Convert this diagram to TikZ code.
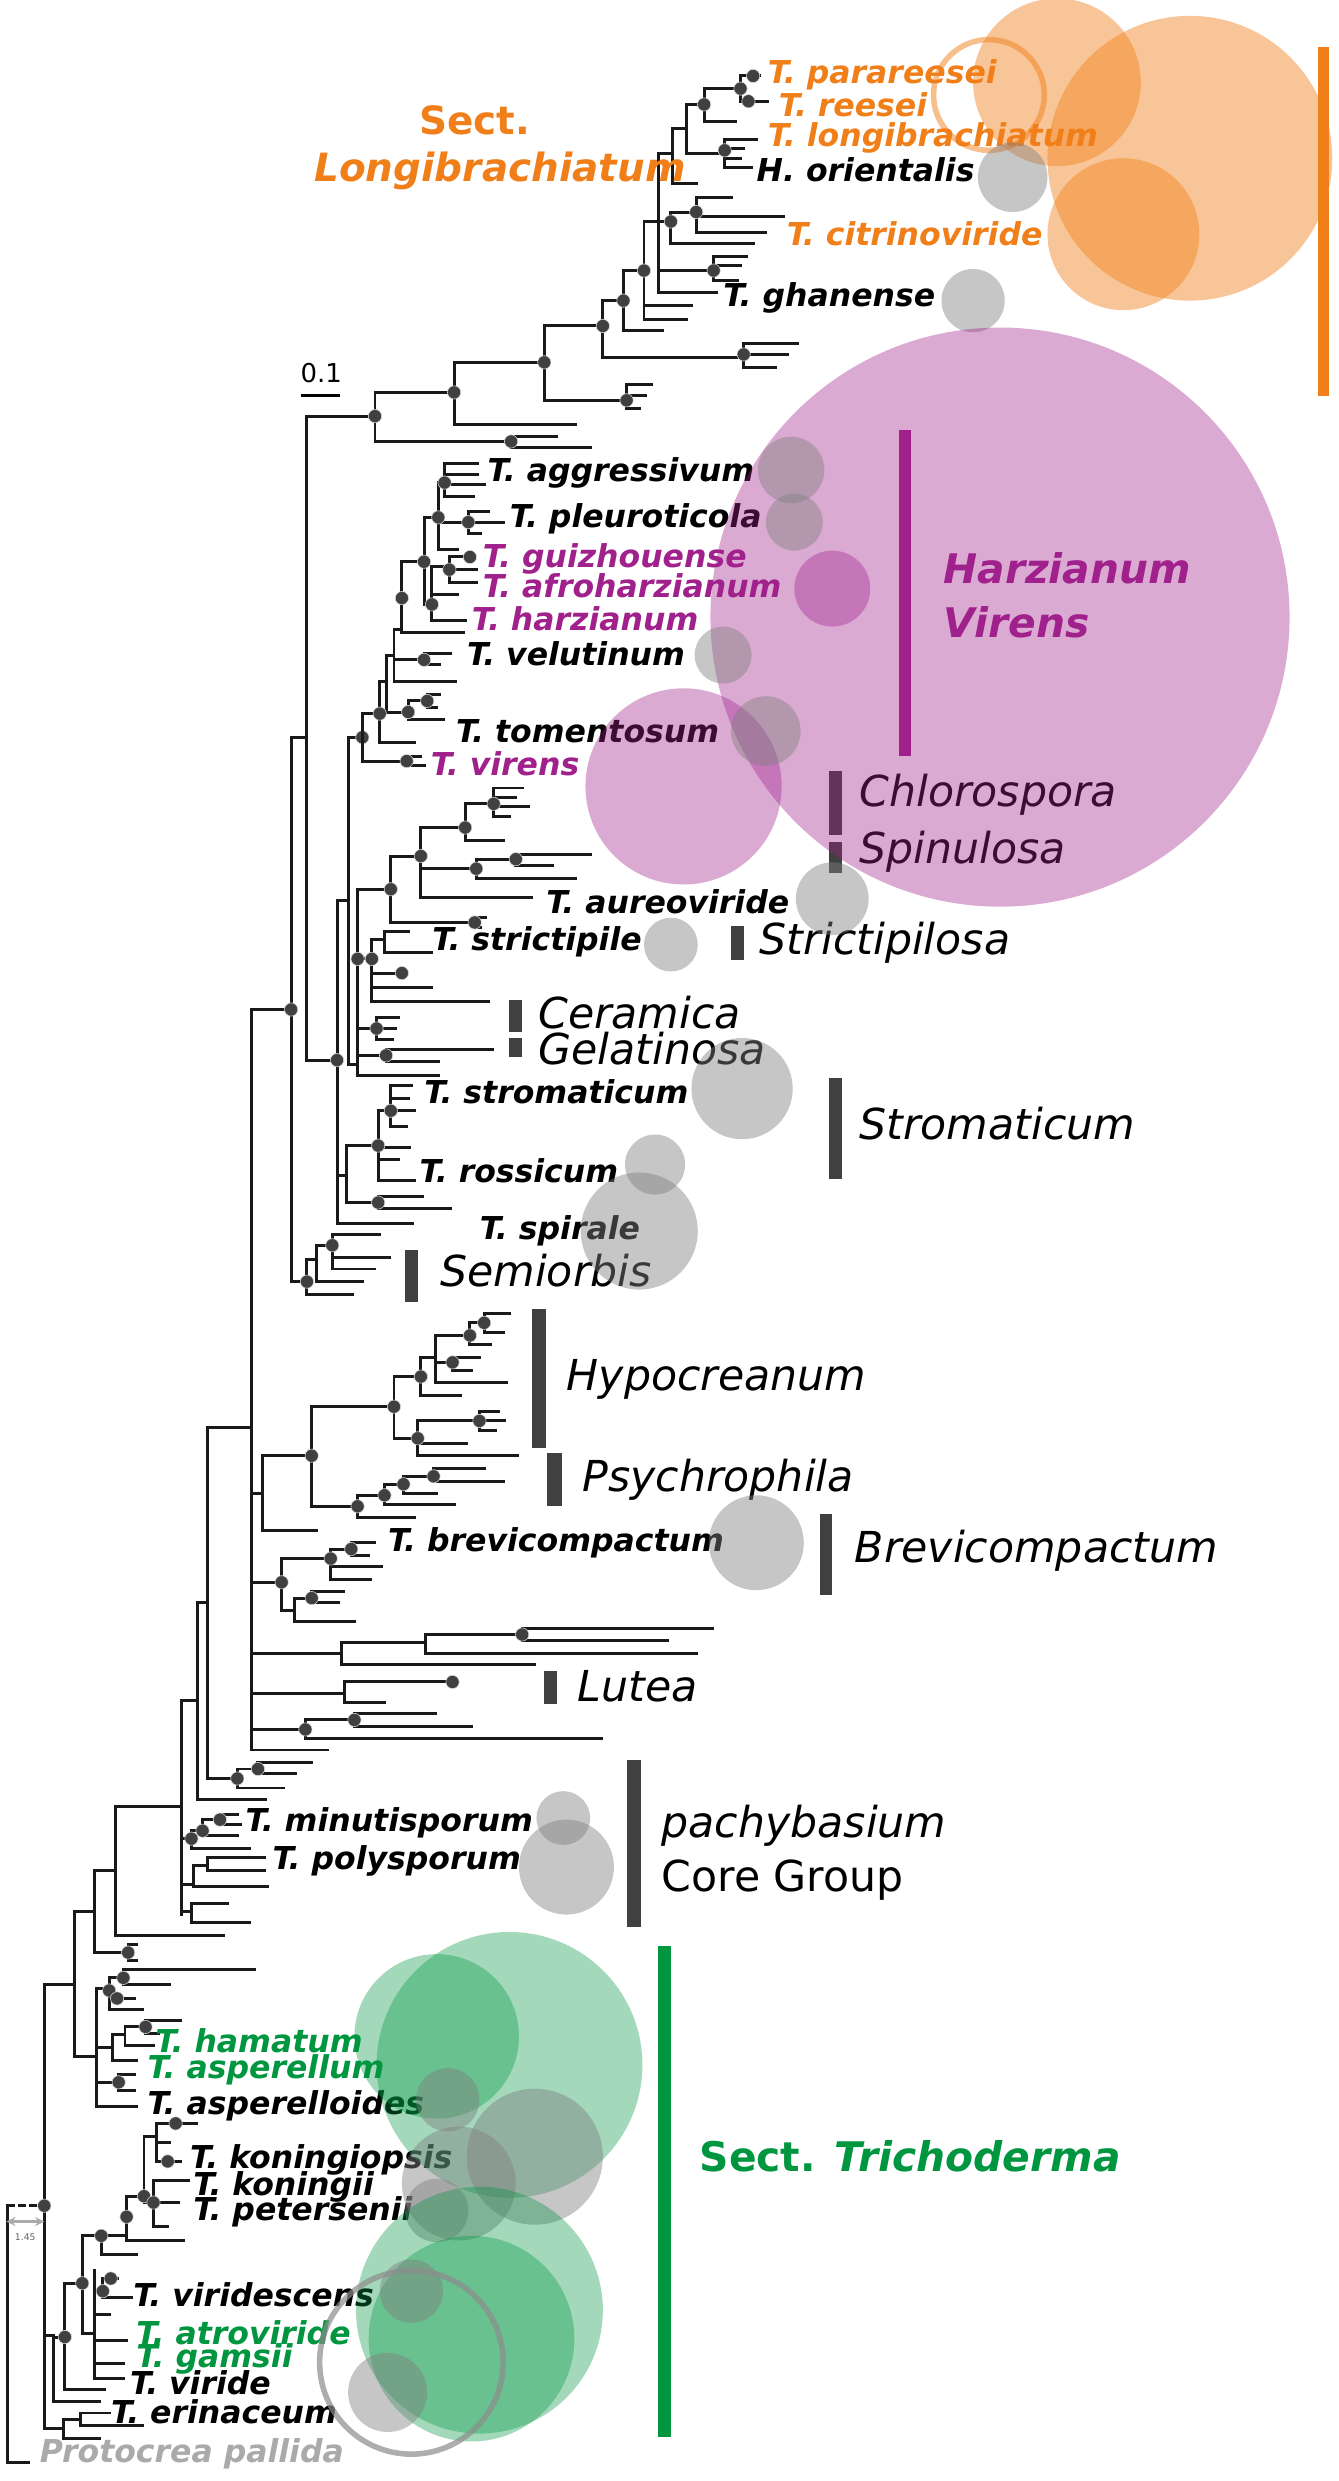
\documentclass[tikz,border=0pt]{standalone}
\usepackage{fontspec}
\setmainfont{DejaVu Sans}
\begin{document}
\definecolor{orC}{RGB}{240,127,26}
\definecolor{maC}{RGB}{160,32,140}
\definecolor{grC}{RGB}{0,150,64}
\definecolor{dkC}{RGB}{64,64,64}
\definecolor{ltC}{RGB}{170,170,170}
\newcommand\vl[3]{\draw[br] (#1,#2)--(#1,#3);}
\newcommand\hl[3]{\draw[br] (#1,#2)--(#3,#2);}
\newcommand\dt[2]{\fill[dkC,draw=white!85!black,line width=0.3pt] (#1,#2) circle (4.2);}
\begin{tikzpicture}[x=0.3mm,y=-0.3mm,
  br/.style={line width=1.6pt,line cap=rect,black!90},
  sp/.style={anchor=west,inner sep=0pt,font=\fontsize{17}{17}\selectfont\bfseries\itshape},
  sc/.style={anchor=west,inner sep=0pt,font=\fontsize{23}{24}\selectfont\itshape},
  bar/.style={fill=dkC},
  bo/.style={fill=orC,opacity=0.45},
  bm/.style={fill=maC,opacity=0.38},
  bg/.style={fill=black!50,opacity=0.45},
  bn/.style={fill=grC,opacity=0.36}]
\useasboundingbox (0,0) rectangle (846,1568);
% ---- Longibrachiatum clade
\vl{194}{263}{670}
\hl{194}{263}{237}
\vl{237}{248}{279} \hl{237}{279}{323} \vl{323}{276}{283} \hl{323}{276}{352} \hl{323}{283}{373}
\hl{237}{248}{287}
\vl{287}{229}{268} \hl{287}{268}{364} \hl{287}{229}{344}
\vl{344}{206}{253} \hl{344}{253}{396} \vl{396}{243}{258} \hl{396}{243}{412} \hl{396}{250}{408} \hl{396}{258}{404}
\hl{344}{206}{381}
\vl{381}{190}{226} \hl{381}{226}{470} \vl{470}{217}{232} \hl{470}{217}{504} \hl{470}{224}{498} \hl{470}{232}{490}
\hl{381}{190}{394}
\vl{394}{171}{209} \hl{394}{209}{419} \hl{394}{171}{407}
\vl{407}{140}{202} \hl{407}{193}{437} \hl{407}{202}{434} \hl{407}{140}{416}
\vl{416}{97}{185} \hl{416}{185}{453}
\hl{416}{171}{451} \vl{451}{162}{177} \hl{451}{162}{472} \hl{451}{168}{468} \hl{451}{177}{466}
\hl{416}{140}{424} \vl{424}{134}{154} \hl{424}{154}{476} \hl{424}{134}{440}
\vl{440}{125}{147} \hl{440}{125}{462} \hl{440}{137}{495} \hl{440}{147}{484}
\hl{416}{97}{425} \vl{425}{81}{116} \hl{425}{116}{440} \hl{425}{81}{434}
\vl{434}{66}{97} \hl{434}{97}{458} \vl{458}{88}{106} \hl{458}{88}{478} \hl{458}{94}{470} \hl{458}{100}{468} \hl{458}{106}{475}
\hl{434}{66}{445} \vl{445}{56}{77} \hl{445}{77}{465} \hl{445}{56}{468}
\vl{468}{48}{64} \hl{468}{48}{480} \hl{468}{64}{485}
\dt{237}{263} \dt{323}{279} \dt{287}{248} \dt{344}{229} \dt{396}{253} \dt{381}{206} \dt{470}{224}
\dt{394}{190} \dt{407}{171} \dt{451}{171} \dt{424}{140} \dt{440}{134} \dt{458}{95} \dt{445}{66} \dt{468}{56} \dt{476}{48} \dt{473}{64}
% ---- H and Semiorbis
\vl{184}{466}{810} \hl{184}{466}{194} \hl{159}{638}{184}
\hl{184}{810}{194} \vl{194}{796}{818} \hl{194}{818}{223} \hl{194}{796}{200}
\vl{200}{787}{810} \hl{200}{810}{229} \hl{200}{787}{210}
\vl{210}{780}{802} \hl{210}{780}{240} \hl{210}{795}{246} \hl{210}{802}{237}
\dt{184}{638} \dt{194}{810} \dt{210}{787}
% ---- I, L, M
\hl{194}{670}{213} \vl{213}{569}{773} \hl{213}{773}{261}
\hl{213}{569}{220} \vl{220}{466}{673} \hl{220}{466}{229} \hl{220}{673}{226}
\vl{226}{562}{680} \hl{226}{680}{277} \hl{226}{562}{247}
\vl{247}{541}{583} \hl{247}{583}{300} \vl{300}{580}{586} \hl{300}{580}{307} \hl{300}{586}{304}
\hl{247}{541}{266} \vl{266}{523}{567} \hl{266}{567}{336}
\hl{266}{549}{301} \vl{301}{543}{555} \hl{301}{555}{364} \hl{301}{543}{326}
\vl{326}{540}{547} \hl{326}{540}{373} \hl{326}{547}{349}
\hl{266}{523}{294} \vl{294}{508}{531} \hl{294}{531}{318} \hl{294}{508}{312}
\vl{312}{498}{516} \hl{312}{498}{330} \hl{312}{504}{326} \hl{312}{510}{334} \hl{312}{516}{322}
\hl{226}{606}{235} \vl{235}{594}{633} \hl{235}{594}{243} \vl{243}{589}{602} \hl{243}{589}{258} \hl{243}{602}{273}
\hl{235}{615}{254} \hl{235}{624}{273} \hl{235}{633}{309}
\hl{226}{650}{238} \vl{238}{643}{657} \hl{238}{643}{252} \hl{238}{650}{250} \hl{238}{657}{248}
\hl{226}{667}{244} \vl{244}{663}{671} \hl{244}{663}{311} \hl{244}{671}{277}
\hl{213}{743}{219} \vl{219}{724}{760} \hl{219}{724}{239}
\vl{239}{702}{746} \hl{239}{702}{247} \vl{247}{686}{712} \hl{247}{686}{260} \hl{247}{694}{258} \hl{247}{702}{262} \hl{247}{712}{257}
\hl{239}{725}{259} \hl{239}{733}{252} \hl{239}{746}{262}
\hl{219}{760}{239} \vl{239}{756}{764} \hl{239}{756}{267} \hl{239}{764}{285}
\dt{213}{670} \dt{229}{466} \dt{247}{562} \dt{300}{583} \dt{266}{541} \dt{301}{549} \dt{326}{543} \dt{294}{523} \dt{312}{508}
\dt{235}{606} \dt{254}{615} \dt{238}{650} \dt{244}{667} \dt{239}{724} \dt{247}{702} \dt{239}{760} \dt{226}{606}
% ---- Harzianum clade
\vl{229}{451}{481} \hl{229}{481}{257} \vl{257}{478}{484} \hl{257}{478}{266} \hl{257}{484}{268}
\hl{229}{451}{240} \vl{240}{431}{469} \hl{240}{469}{262}
\hl{240}{431}{244} \vl{244}{414}{450} \hl{244}{450}{258} \vl{258}{443}{455} \hl{258}{455}{280} \hl{258}{443}{270}
\vl{270}{439}{447} \hl{270}{439}{278} \hl{270}{447}{276}
\hl{244}{414}{249} \vl{249}{398}{431} \hl{249}{431}{288} \hl{249}{417}{268} \vl{268}{413}{420} \hl{268}{413}{285} \hl{268}{420}{278}
\hl{249}{398}{254} \vl{254}{355}{400} \hl{254}{400}{293} \hl{254}{355}{268}
\vl{268}{327}{382} \hl{268}{382}{273}
\vl{273}{358}{392} \hl{273}{358}{284} \vl{284}{352}{368} \hl{284}{352}{297} \hl{284}{360}{301} \hl{284}{368}{301}
\hl{273}{376}{289} \hl{273}{392}{294}
\hl{268}{327}{277} \vl{277}{305}{347} \hl{277}{347}{289}
\hl{277}{330}{296} \vl{296}{323}{337} \hl{296}{323}{309} \hl{296}{330}{318} \hl{296}{337}{304}
\hl{277}{305}{281} \vl{281}{293}{314} \hl{281}{293}{302} \hl{281}{300}{302} \hl{281}{306}{306} \hl{281}{314}{299}
\dt{257}{481} \dt{240}{451} \dt{258}{450} \dt{270}{443} \dt{268}{417} \dt{254}{378} \dt{268}{355} \dt{273}{382}
\dt{284}{360} \dt{297}{352} \dt{277}{327} \dt{296}{330} \dt{281}{305}
% ---- middle part
\vl{159}{638}{1106} \hl{159}{1106}{207}
\hl{159}{944}{166} \vl{166}{920}{967} \hl{166}{967}{200} \hl{166}{920}{197}
\vl{197}{889}{952} \hl{197}{889}{249} \vl{249}{870}{909} \hl{249}{870}{266}
\vl{266}{858}{882} \hl{266}{882}{291} \hl{266}{858}{275}
\vl{275}{844}{874} \hl{275}{874}{320} \hl{275}{861}{286} \vl{286}{858}{866} \hl{286}{858}{303} \hl{286}{866}{298}
\hl{275}{844}{297} \vl{297}{836}{850} \hl{297}{850}{310} \hl{297}{836}{306} \vl{306}{830}{842} \hl{306}{830}{322} \hl{306}{842}{318}
\hl{249}{909}{264} \vl{264}{898}{920} \hl{264}{898}{303} \vl{303}{892}{904} \hl{303}{892}{315} \hl{303}{898}{319} \hl{303}{904}{313}
\hl{264}{912}{295} \hl{264}{920}{327}
\hl{197}{952}{226} \vl{226}{945}{959} \hl{226}{959}{262} \hl{226}{945}{243}
\vl{243}{938}{951} \hl{243}{951}{287} \hl{243}{938}{255} \vl{255}{933}{944} \hl{255}{944}{276} \hl{255}{933}{274}
\vl{274}{928}{936} \hl{274}{928}{306} \hl{274}{936}{318}
\dt{197}{920} \dt{249}{889} \dt{266}{870} \dt{286}{861} \dt{297}{844} \dt{306}{836} \dt{264}{909} \dt{303}{898}
\dt{226}{952} \dt{243}{945} \dt{255}{938} \dt{274}{933}
% brevicompactum
\hl{159}{1000}{178} \vl{178}{985}{1018} \hl{178}{985}{209}
\vl{209}{979}{998} \hl{209}{979}{222} \vl{222}{975}{983} \hl{222}{975}{237} \hl{222}{983}{233} \hl{209}{990}{241} \hl{209}{998}{234}
\hl{178}{1018}{186} \vl{186}{1010}{1025} \hl{186}{1025}{224} \hl{186}{1010}{197} \vl{197}{1006}{1013} \hl{197}{1006}{217} \hl{197}{1013}{214}
\dt{178}{1000} \dt{209}{985} \dt{222}{979} \dt{197}{1010}
% lutea and others
\hl{159}{1045}{216} \vl{216}{1038}{1052} \hl{216}{1052}{338} \hl{216}{1038}{269}
\vl{269}{1033}{1045} \hl{269}{1045}{440} \hl{269}{1033}{330} \vl{330}{1029}{1037} \hl{330}{1029}{450} \hl{330}{1037}{422}
\hl{159}{1070}{218} \vl{218}{1063}{1076} \hl{218}{1063}{286} \hl{218}{1076}{243}
\hl{159}{1093}{193} \vl{193}{1087}{1099} \hl{193}{1099}{380} \hl{193}{1087}{224} \vl{224}{1083}{1091} \hl{224}{1083}{275} \hl{224}{1091}{298}
\dt{330}{1033} \dt{286}{1063} \dt{193}{1093} \dt{224}{1087}
% pachybasium core
\hl{131}{902}{159} \vl{131}{902}{1124} \hl{131}{1124}{150} \vl{150}{1118}{1130} \hl{150}{1130}{179} \hl{150}{1118}{163}
\vl{163}{1114}{1121} \hl{163}{1114}{197} \hl{163}{1121}{187}
\hl{125}{1013}{131} \vl{125}{1013}{1137} \hl{125}{1137}{168}
\hl{115}{1075}{125} \vl{115}{1075}{1210}
\hl{115}{1162}{121} \vl{121}{1157}{1168} \hl{121}{1168}{158} \hl{121}{1157}{128} \vl{128}{1150}{1160} \hl{128}{1160}{150} \hl{128}{1150}{139}
\vl{139}{1147}{1153} \hl{139}{1147}{150} \hl{139}{1153}{152}
\hl{115}{1191}{122} \vl{122}{1179}{1192} \hl{122}{1192}{169} \hl{122}{1179}{131} \vl{131}{1174}{1182} \hl{131}{1174}{167} \hl{131}{1182}{167}
\hl{115}{1208}{121} \vl{121}{1203}{1215} \hl{121}{1203}{144} \hl{121}{1215}{158}
\hl{73}{1142}{115} \vl{73}{1142}{1223} \hl{73}{1223}{141}
\dt{150}{1124} \dt{163}{1118} \dt{121}{1162} \dt{128}{1157} \dt{139}{1150}
% ---- Trichoderma
\hl{60}{1182}{73} \vl{60}{1182}{1234} \hl{60}{1234}{81} \vl{81}{1229}{1239} \hl{81}{1229}{86} \hl{81}{1239}{86}
\hl{47}{1208}{60} \vl{47}{1208}{1300} \hl{47}{1300}{61} \vl{61}{1257}{1331}
\hl{61}{1257}{69} \vl{69}{1250}{1270} \hl{69}{1250}{78} \vl{78}{1245}{1254} \hl{78}{1245}{161} \hl{78}{1254}{107}
\hl{69}{1263}{85} \hl{69}{1270}{90}
\hl{61}{1294}{71} \vl{71}{1286}{1302} \hl{71}{1286}{79} \vl{79}{1281}{1293} \hl{79}{1281}{92}
\vl{92}{1277}{1285} \hl{92}{1277}{114} \hl{92}{1285}{100} \hl{79}{1293}{97} \hl{71}{1302}{86}
\hl{61}{1316}{75} \vl{75}{1311}{1321} \hl{75}{1311}{85} \hl{75}{1321}{85} \hl{61}{1331}{86}
\hl{28}{1254}{47} \vl{28}{1254}{1535}
\vl{5}{1394}{1556} \hl{5}{1556}{18}
\draw[br,dashed] (5,1394)--(28,1394);
\draw[ltC,line width=1.2pt,<->,>=stealth] (4,1404)--(28,1404);
\node[ltC!60!black,font=\fontsize{5}{5}\selectfont] (sb) at (16,1414) {1.45};
\hl{28}{1476}{34} \vl{34}{1476}{1518} \hl{34}{1518}{63}
\hl{34}{1477}{41} \vl{41}{1443}{1510} \hl{41}{1510}{66} \hl{41}{1443}{52}
\vl{52}{1413}{1475} \hl{52}{1413}{64} \vl{64}{1413}{1425} \hl{64}{1425}{86} \hl{64}{1413}{80}
\vl{80}{1388}{1416} \hl{80}{1416}{116} \hl{80}{1388}{91}
\vl{91}{1350}{1392} \hl{91}{1350}{99} \vl{99}{1342}{1366} \hl{99}{1342}{124} \hl{99}{1354}{107} \hl{99}{1366}{114}
\hl{91}{1392}{97} \vl{97}{1378}{1407} \hl{97}{1378}{119} \hl{97}{1392}{113} \hl{97}{1407}{106}
\hl{52}{1475}{60} \vl{60}{1435}{1503} \hl{60}{1503}{78} \hl{60}{1494}{78} \hl{60}{1479}{80} \hl{60}{1463}{69}
\hl{60}{1448}{65} \vl{65}{1440}{1452} \hl{65}{1440}{74} \hl{65}{1452}{83}
\hl{28}{1535}{40} \vl{40}{1529}{1541} \hl{40}{1529}{51} \vl{51}{1525}{1533} \hl{51}{1525}{69} \hl{51}{1533}{90} \hl{40}{1541}{63}
\dt{81}{1234} \dt{69}{1258} \dt{78}{1250} \dt{74}{1263} \dt{92}{1281} \dt{75}{1316} \dt{28}{1394} \dt{41}{1477}
\dt{52}{1443} \dt{64}{1413} \dt{80}{1401} \dt{91}{1388} \dt{97}{1392} \dt{111}{1342} \dt{106}{1366} \dt{65}{1448} \dt{70}{1440}
% ---- scale bar
\draw[line width=1.6pt] (190,250)--(215,250);
\node[font=\fontsize{14}{14}\selectfont] (s01) at (203,236) {0.1};
% ---- species labels
\node[sp,orC] (t1) at (485,47) {T. parareesei};
\node[sp,orC] (t2) at (492,66) {T. reesei};
\node[sp,orC] (t3) at (485,87) {T. longibrachiatum};
\node[sp] (t4) at (478,107) {H. orientalis};
\node[sp,orC] (t5) at (497,148) {T. citrinoviride};
\node[sp] (t6) at (457,188) {T. ghanense};
\node[sp] (t7) at (308,299) {T. aggressivum};
\node[sp] (t8) at (322,328) {T. pleuroticola};
\node[sp,maC] (t9) at (305,353) {T. guizhouense};
\node[sp,maC] (t10) at (305,370) {T. afroharzianum};
\node[sp,maC] (t11) at (298,391) {T. harzianum};
\node[sp] (t12) at (295,413) {T. velutinum};
\node[sp] (t13) at (288,462) {T. tomentosum};
\node[sp,maC] (t14) at (272,483) {T. virens};
\node[sp] (t15) at (345,570) {T. aureoviride};
\node[sp] (t16) at (273,595) {T. strictipile};
\node[sp] (t17) at (268,690) {T. stromaticum};
\node[sp] (t18) at (265,740) {T. rossicum};
\node[sp] (t19) at (303,778) {T. spirale};
\node[sp] (t20) at (245,975) {T. brevicompactum};
\node[sp] (t21) at (155,1152) {T. minutisporum};
\node[sp] (t22) at (172,1176) {T. polysporum};
\node[sp,grC] (t23) at (98,1290) {T. hamatum};
\node[sp,grC] (t24) at (93,1308) {T. asperellum};
\node[sp] (t25) at (93,1331) {T. asperelloides};
\node[sp] (t26) at (120,1365) {T. koningiopsis};
\node[sp] (t27) at (122,1382) {T. koningii};
\node[sp] (t28) at (122,1398) {T. petersenii};
\node[sp] (t29) at (84,1450) {T. viridescens};
\node[sp,grC] (t30) at (86,1474) {T. atroviride};
\node[sp,grC] (t31) at (86,1491) {T. gamsii};
\node[sp] (t32) at (82,1506) {T. viride};
\node[sp] (t33) at (70,1524) {T. erinaceum};
\node[sp,ltC] (t34) at (25,1551) {Protocrea pallida};
% ---- section labels and bars
\node[orC,font=\fontsize{21}{21}\selectfont\bfseries] (sl1) at (300,76) {Sect.};
\node[orC,font=\fontsize{21}{21}\selectfont\bfseries\itshape] (sl2) at (316,108) {Longibrachiatum};
\node[maC,anchor=west,inner sep=0pt,align=left,font=\fontsize{22}{29}\selectfont\bfseries\itshape] (hv) at (596,376) {Harzianum\\Virens};
\node[sc] (c1) at (543,502) {Chlorospora};
\node[sc] (c2) at (543,538) {Spinulosa};
\node[sc] (c3) at (480,596) {Strictipilosa};
\node[sc] (c4) at (340,640) {Ceramica};
\node[sc] (c5) at (340,663) {Gelatinosa};
\node[sc] (c6) at (543,710) {Stromaticum};
\node[sc] (c7) at (278,803) {Semiorbis};
\node[sc] (c8) at (358,872) {Hypocreanum};
\node[sc] (c9) at (368,935) {Psychrophila};
\node[sc] (c10) at (540,980) {Brevicompactum};
\node[sc] (c11) at (365,1066) {Lutea};
\node[sc] (c12) at (418,1154) {pachybasium};
\node[anchor=west,inner sep=0pt,font=\fontsize{23}{24}\selectfont] (c13) at (418,1188) {Core Group};
\node[grC,anchor=west,inner sep=0pt,font=\fontsize{22}{22}\selectfont\bfseries] (st) at (442,1363) {Sect. \textit{Trichoderma}};
\fill[orC] (833,30) rectangle (840,250);
\fill[maC] (568,272) rectangle (576,478);
\fill[grC] (416,1230) rectangle (424,1540);
\fill[bar] (524,487) rectangle (532,528);
\fill[bar] (524,532) rectangle (532,552);
\fill[bar] (462,585) rectangle (470,607);
\fill[bar] (322,632) rectangle (330,652);
\fill[bar] (322,656) rectangle (330,668);
\fill[bar] (524,681) rectangle (532,745);
\fill[bar] (256,790) rectangle (264,823);
\fill[bar] (336,827) rectangle (345,915);
\fill[bar] (346,918) rectangle (355,952);
\fill[bar] (518,957) rectangle (526,1008);
\fill[bar] (344,1056) rectangle (352,1077);
\fill[bar] (396,1112) rectangle (405,1218);
% ---- bubbles
\fill[bo] (668,52) circle (53);
\fill[bo] (752,100) circle (90);
\fill[bo] (710,148) circle (48);
\draw[orC,opacity=0.5,line width=3pt] (625,60) circle (35);
\fill[bg] (640,112) circle (22);
\fill[bg] (615,190) circle (20);
\fill[bm] (632,390) circle (183);
\fill[bm] (432,497) circle (62);
\fill[bm] (526,372) circle (24);
\fill[bg] (500,297) circle (21);
\fill[bg] (502,330) circle (18);
\fill[bg] (457,414) circle (18);
\fill[bg] (484,462) circle (22);
\fill[bg] (526,568) circle (23);
\fill[bg] (424,597) circle (17);
\fill[bg] (469,688) circle (32);
\fill[bg] (414,736) circle (19);
\fill[bg] (404,778) circle (37);
\fill[bg] (478,975) circle (30);
\fill[bg] (356,1149) circle (17);
\fill[bg] (358,1180) circle (30);
\fill[bn] (322,1305) circle (84);
\fill[bn] (276,1287) circle (52);
\fill[bg] (283,1327) circle (20);
\fill[bg] (338,1363) circle (43);
\fill[bg] (290,1380) circle (36);
\fill[bg] (276,1397) circle (20);
\fill[bn] (303,1460) circle (78);
\fill[bn] (298,1478) circle (65);
\fill[bg] (260,1448) circle (20);
\fill[bg] (245,1512) circle (25);
\draw[black!45,opacity=0.7,line width=3pt] (260,1493) circle (58);
\end{tikzpicture}
\end{document}
